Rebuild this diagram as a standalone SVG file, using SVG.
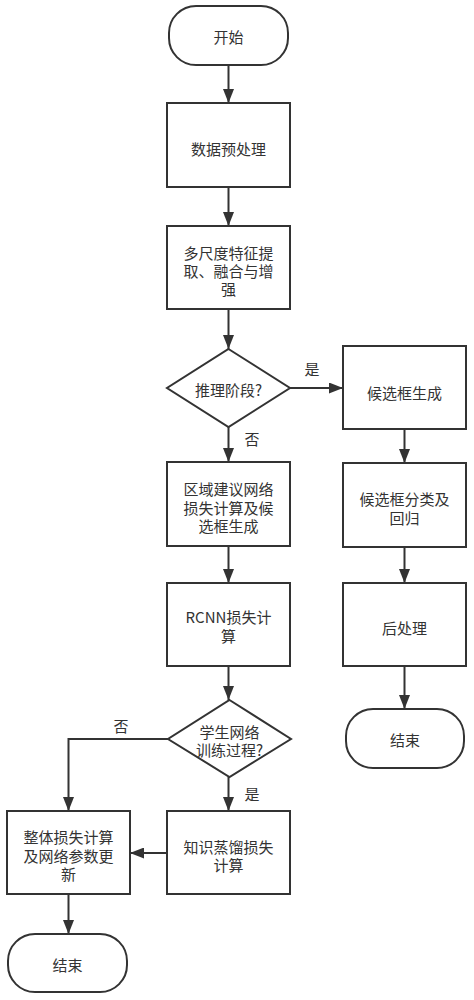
<svg xmlns="http://www.w3.org/2000/svg" width="474" height="1000" viewBox="0 0 474 1000">
<defs>
<style>
.n{fill:#fff;stroke:#333;stroke-width:2}
.t{font-family:"Noto Sans CJK SC","Noto Sans",sans-serif;font-size:15px;fill:#333;text-anchor:middle;dominant-baseline:central}
.c{fill:none;stroke:#333;stroke-width:2}
</style>
<marker id="a" markerUnits="userSpaceOnUse" markerWidth="14" markerHeight="11" refX="14" refY="5.5" orient="auto"><path d="M0,0 L14,5.5 L0,11 z" fill="#333"/></marker>
</defs>
<rect width="474" height="1000" fill="#fff"/>
<g id="connectors">
<path class="c" marker-end="url(#a)" d="M228.5,65 V103"/>
<path class="c" marker-end="url(#a)" d="M228.5,187 V226"/>
<path class="c" marker-end="url(#a)" d="M228.5,309 V349"/>
<path class="c" marker-end="url(#a)" d="M290,388 H343"/>
<path class="c" marker-end="url(#a)" d="M228.5,427 V462"/>
<path class="c" marker-end="url(#a)" d="M404.5,429 V463"/>
<path class="c" marker-end="url(#a)" d="M404.5,547 V583"/>
<path class="c" marker-end="url(#a)" d="M404.5,666 V709"/>
<path class="c" marker-end="url(#a)" d="M228.5,546 V583"/>
<path class="c" marker-end="url(#a)" d="M228.5,666 V700"/>
<path class="c" marker-end="url(#a)" d="M228.5,777 V811"/>
<path class="c" marker-end="url(#a)" d="M168,739 H68.5 V811"/>
<path class="c" marker-end="url(#a)" d="M167,853 H130"/>
<path class="c" marker-end="url(#a)" d="M68.5,894 V934"/>
<text class="t" x="312" y="368">是</text>
<text class="t" x="252" y="438">否</text>
<text class="t" x="252" y="793">是</text>
<text class="t" x="121" y="725">否</text>
</g>
<g id="start"><rect class="n" x="169" y="6" width="119" height="59" rx="27"/><text class="t" x="228.5" y="36">开始</text></g>
<g id="preprocess"><rect class="n" x="167" y="103" width="123" height="84"/><text class="t" x="228.5" y="148">数据预处理</text></g>
<g id="features"><rect class="n" x="167" y="226" width="123" height="83"/><text class="t" x="228.5" y="252">多尺度特征提</text><text class="t" x="228.5" y="270">取、融合与增</text><text class="t" x="228.5" y="288">强</text></g>
<g id="inference"><path class="n" d="M228.5,349 L290,388 L228.5,427 L167,388 z"/><text class="t" x="228.5" y="389">推理阶段?</text></g>
<g id="candgen"><rect class="n" x="343" y="346" width="123" height="83"/><text class="t" x="404.5" y="392">候选框生成</text></g>
<g id="rpn"><rect class="n" x="167" y="462" width="123" height="84"/><text class="t" x="228.5" y="488">区域建议网络</text><text class="t" x="228.5" y="507">损失计算及候</text><text class="t" x="228.5" y="525">选框生成</text></g>
<g id="candcls"><rect class="n" x="343" y="463" width="123" height="84"/><text class="t" x="404.5" y="498">候选框分类及</text><text class="t" x="404.5" y="517">回归</text></g>
<g id="rcnn"><rect class="n" x="167" y="583" width="123" height="83"/><text class="t" x="228.5" y="616">RCNN损失计</text><text class="t" x="228.5" y="635">算</text></g>
<g id="post"><rect class="n" x="343" y="583" width="123" height="83"/><text class="t" x="404.5" y="627">后处理</text></g>
<g id="end-right"><rect class="n" x="346" y="709" width="118" height="59" rx="27"/><text class="t" x="405" y="739">结束</text></g>
<g id="student"><path class="n" d="M229.5,700 L291,739 L229.5,777 L168,739 z"/><text class="t" x="229.5" y="731">学生网络</text><text class="t" x="229.5" y="749">训练过程?</text></g>
<g id="distill"><rect class="n" x="167" y="811" width="123" height="83"/><text class="t" x="228.5" y="846">知识蒸馏损失</text><text class="t" x="228.5" y="864">计算</text></g>
<g id="update"><rect class="n" x="7" y="811" width="123" height="83"/><text class="t" x="68.5" y="836">整体损失计算</text><text class="t" x="68.5" y="855">及网络参数更</text><text class="t" x="68.5" y="873">新</text></g>
<g id="end-left"><rect class="n" x="8" y="934" width="119" height="58" rx="27"/><text class="t" x="67.5" y="964">结束</text></g>
</svg>
